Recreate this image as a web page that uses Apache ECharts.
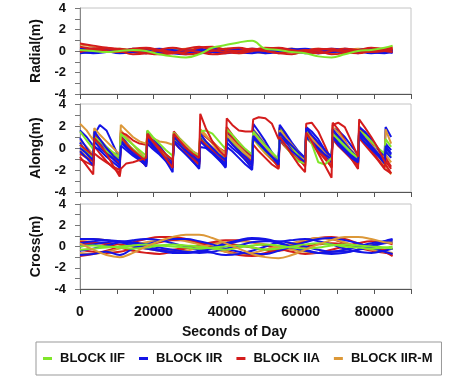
<!DOCTYPE html>
<html><head><meta charset="utf-8">
<script src="https://cdn.jsdelivr.net/npm/echarts@6/dist/echarts.min.js"></script>
<style>html,body{margin:0;padding:0;background:#fff}#c{width:474px;height:387px}</style>
</head><body><div id="c"></div>
<script>
// Time samples (seconds of day)
const tRC = [0,3600,7200,10800,14400,18000,21600,25200,28800,32400,36000,39600,43200,46800,50400,54000,57600,61200,64800,68400,72000,75600,79200,82800,85000];
const tAlong = [0,1800,3600,
 3900,5400,7200,9000,10800, 11100,12600,14400,16200,18000, 18300,19800,21600,23400,25200,
 25500,27000,28800,30600,32400, 32700,34200,36000,37800,39600, 39900,41400,43200,45000,46800,
 47100,48600,50400,52200,54000, 54300,55800,57600,59400,61200, 61500,63000,64800,66600,68400,
 68700,70200,72000,73800,75600, 75900,77400,79200,81000,82800, 83100,84600];

const categories = ['BLOCK IIF','BLOCK IIR','BLOCK IIA','BLOCK IIR-M'];
const yTicks = [-4,-2,0,2,4];
const xTicks = [0,20000,40000,60000,80000];

// ---- Radial (m)
const rG1 = [0.1,0.0,-0.1,0.0,0.1,0.0,-0.3,-0.5,-0.6,-0.3,0.3,0.55,0.8,0.95,0.2,0.1,-0.1,-0.2,-0.5,-0.6,-0.3,0.0,0.1,0.3,0.5];
const rG2 = [-0.2,-0.1,0.1,0.2,0.0,-0.1,0.0,0.1,0.0,-0.1,0.1,0.2,0.1,0.0,-0.1,0.0,0.1,0.0,-0.1,0.0,0.1,0.0,-0.1,0.1,0.2];
const rB1 = [0.2,0.1,0.0,-0.1,0.2,0.1,-0.2,-0.1,0.0,0.1,-0.1,-0.2,0.0,0.2,0.1,-0.1,0.0,0.1,-0.2,-0.1,0.0,0.1,-0.1,-0.2,-0.1];
const rB2 = [-0.1,0.0,0.2,0.1,-0.1,-0.2,0.0,0.1,-0.2,-0.1,0.1,0.0,-0.1,0.1,0.2,0.0,-0.1,0.0,0.1,0.2,0.1,-0.1,0.0,0.1,0.0];
const rB3 = [0.0,-0.2,-0.1,0.1,0.0,0.2,0.1,-0.2,-0.3,0.0,0.2,0.1,-0.1,-0.2,0.0,0.1,0.2,-0.1,-0.2,0.0,-0.1,0.1,0.2,0.0,-0.2];
const rB4 = [0.1,0.2,0.0,-0.2,-0.1,0.1,0.2,0.0,-0.1,0.2,0.0,-0.1,0.1,0.0,-0.2,-0.1,0.1,0.2,0.0,-0.1,0.2,0.0,-0.2,-0.1,0.1];
const rB5 = [-0.2,-0.1,0.1,0.0,0.1,-0.1,-0.2,0.0,0.1,-0.2,-0.1,0.1,0.2,0.0,-0.1,0.1,0.0,-0.2,-0.1,0.1,0.0,-0.2,0.1,0.0,-0.1];
const rR1 = [0.7,0.5,0.3,0.2,0.1,0.2,0.0,-0.2,-0.1,0.3,0.4,0.1,0.0,0.1,0.3,0.2,0.0,-0.1,0.1,0.2,0.0,0.1,0.3,0.2,0.3];
const rR2 = [0.4,0.2,0.0,-0.1,0.2,0.3,0.1,-0.1,-0.3,-0.2,0.0,0.2,0.3,0.1,0.0,-0.2,-0.1,0.1,0.0,-0.3,-0.2,0.0,0.1,0.0,-0.1];
const rR3 = [0.0,0.1,0.2,0.0,-0.3,-0.2,0.1,0.3,0.1,-0.1,-0.3,-0.2,0.0,0.2,0.0,-0.2,-0.3,0.0,0.2,0.1,-0.1,-0.2,0.0,0.2,0.1];
const rR4 = [-0.1,0.2,0.3,0.1,0.0,-0.2,-0.3,-0.2,0.2,0.4,0.1,-0.1,-0.2,0.0,0.2,0.3,0.1,-0.1,-0.2,0.0,0.2,0.1,-0.1,0.0,0.2];
const rO1 = [0.6,0.4,0.1,0.0,0.2,0.1,-0.1,0.0,0.2,0.1,0.0,-0.1,0.1,0.2,0.0,0.1,0.2,0.0,-0.1,0.1,0.2,0.1,0.0,0.2,0.4];
const rO2 = [0.3,0.1,-0.1,0.1,0.0,-0.2,0.0,0.2,0.1,-0.1,0.1,0.0,-0.2,-0.1,0.1,0.0,-0.1,0.1,0.2,0.0,-0.1,0.0,0.1,0.0,0.1];
const rO3 = [0.0,0.2,0.1,-0.1,0.1,0.2,0.1,0.0,-0.1,0.0,0.2,0.1,0.0,-0.1,-0.2,0.1,0.2,0.1,0.0,-0.2,0.0,0.2,0.1,-0.1,0.0];

// ---- Along (m)
const aB1 = [0.5,-0.5,-1.5, 1.2,2.1,1.6,0.3,-1.0, 0.9,0.4,-0.2,-0.9,-1.7, 1.3,0.6,-0.3,-1.2,-2.2, 1.2,0.5,-0.4,-1.2,-1.9, 1.0,0.4,-0.3,-1.0,-1.8, 1.4,0.7,-0.2,-1.1,-1.9, 2.2,1.5,0.6,-0.4,-1.3, 1.8,1.2,0.4,-0.4,-1.0, 1.9,1.5,0.8,-0.2,-1.1, 1.8,1.6,1.0,0.2,-0.6, 1.7,1.4,0.8,0.0,-0.8, 1.9,1.0];
const aB2 = [0.9,0.0,-0.9, 1.0,0.4,-0.3,-0.9,-1.4, 1.1,0.5,-0.2,-0.8,-1.3, 1.5,0.9,0.2,-0.6,-1.3, 0.8,0.3,-0.3,-0.8,-1.3, 0.1,0.0,-0.5,-1.1,-1.7, 1.2,0.6,0.1,-0.4,-0.9, 1.6,1.0,0.2,-0.5,-1.1, 1.1,0.6,0.0,-0.6,-1.2, 1.5,0.9,0.2,-0.5,-1.3, 1.4,0.9,0.2,-0.6,-1.4, 1.9,1.5,0.8,-0.1,-1.0, 0.4,-0.2];
const aB3 = [-0.3,-0.9,-1.6, 0.6,0.0,-0.5,-1.0,-1.6, 0.7,0.1,-0.5,-1.1,-1.6, 1.0,0.3,-0.4,-1.1,-1.7, 1.2,0.4,-0.2,-0.9,-1.5, 0.9,0.2,-0.4,-1.0,-1.6, 0.1,-0.3,-0.9,-1.5,-2.0, 1.3,0.7,0.0,-0.6,-1.0, 2.1,1.4,0.5,-0.3,-0.9, 1.0,0.5,-0.1,-0.7,-1.2, 1.1,0.5,-0.1,-0.7,-1.1, 1.3,0.8,0.1,-0.6,-1.2, 0.0,-0.6];
const aB4 = [1.6,1.0,0.2, 0.3,-0.2,-0.8,-1.3,-1.8, 0.5,0.0,-0.5,-1.0,-1.4, 0.8,0.1,-0.5,-1.0,-1.5, 0.6,0.0,-0.6,-1.2,-1.8, 1.3,0.6,0.0,-0.6,-1.1, 0.9,0.3,-0.3,-0.8,-1.4, 0.9,0.4,-0.2,-0.8,-1.5, 1.4,0.8,0.2,-0.4,-0.9, 1.2,0.6,0.0,-0.6,-1.0, 1.7,1.1,0.4,-0.3,-0.9, 1.1,0.5,-0.1,-0.7,-1.4, -0.3,-0.9];
const aB5 = [0.0,-0.5,-1.1, 1.5,0.8,0.0,-0.7,-1.2, 0.2,-0.2,-0.7,-1.1,-1.5, 0.4,-0.1,-0.6,-1.2,-1.8, 1.0,0.5,0.0,-0.6,-1.2, 0.6,0.1,-0.4,-0.9,-1.4, 0.5,0.0,-0.5,-1.1,-1.6, 1.1,0.5,-0.2,-0.8,-1.3, 0.9,0.3,-0.3,-0.8,-1.3, 1.8,1.2,0.5,-0.2,-0.8, 1.0,0.3,-0.3,-0.9,-1.3, 1.5,0.9,0.2,-0.5,-1.1, 0.2,-0.5];
const aR1 = [-0.8,-1.6,-2.4, 0.9,0.3,-0.5,-1.6,-2.6, -1.9,-1.4,-1.3,-1.1,-0.9, 1.3,0.6,-0.2,-1.0,-1.8, 1.3,0.7,0.0,-0.5,-0.9, 3.1,1.8,0.6,-0.2,-0.8, 2.7,2.1,1.6,1.5,1.5, 2.6,2.8,2.7,2.2,0.8, 1.0,0.3,-0.6,-1.5,-2.2, 1.4,0.6,-0.5,-1.6,-2.7, 2.1,2.3,1.9,0.6,-0.8, 2.6,1.9,1.0,0.0,-1.2, -1.5,-2.3];
const aR2 = [-1.0,-1.3,-1.6, 0.2,-0.5,-1.2,-1.8,-2.3, 0.8,0.2,-0.5,-1.1,-1.6, 0.6,0.1,-0.4,-0.9,-1.3, 1.5,0.9,0.3,-0.3,-0.8, 1.2,0.6,0.0,-0.5,-1.0, 1.0,0.4,-0.3,-1.0,-1.6, 1.4,0.8,0.0,-0.9,-1.8, 1.9,1.2,0.3,-0.7,-1.6, 2.2,2.3,1.5,0.2,-1.2, 1.5,0.8,-0.1,-1.0,-1.9, 1.8,1.2,0.4,-0.5,-1.4, -0.9,-1.7];
const aR3 = [-0.5,-0.9,-1.2, 1.2,0.7,0.0,-0.7,-1.4, 1.4,1.2,0.7,0.4,0.3, 0.9,0.3,-0.3,-1.0,-1.6, 1.0,0.4,-0.2,-0.8,-1.3, 1.4,1.0,0.5,0.0,-0.4, 1.6,1.0,0.2,-0.5,-1.2, 1.0,0.4,-0.3,-1.0,-1.7, 1.5,0.9,0.1,-0.8,-1.7, 1.2,0.5,-0.3,-1.0,-1.7, 2.3,1.7,0.7,-0.4,-1.5, 1.3,0.6,-0.2,-1.0,-1.8, -1.2,-1.9];
const aR4 = [0.3,-0.2,-0.7, -0.5,-0.9,-1.3,-1.7,-2.0, 1.0,0.4,-0.2,-0.7,-1.2, 1.1,0.6,0.0,-0.6,-1.1, 0.5,0.0,-0.5,-1.0,-1.5, 0.8,0.3,-0.2,-0.7,-1.2, 1.9,1.2,0.5,-0.2,-0.8, 0.3,-0.3,-0.9,-1.5,-1.9, 0.7,0.1,-0.5,-1.1,-1.6, 1.7,1.1,0.2,-0.8,-1.8, 0.8,0.2,-0.4,-1.0,-1.6, 0.9,0.3,-0.4,-1.1,-1.9, -1.9,-2.3];
const aO1 = [2.2,1.6,0.7, 1.8,1.2,0.6,0.0,-0.6, 2.1,1.6,1.0,0.6,0.4, 1.2,0.9,0.6,0.5,0.3, 1.3,0.8,0.2,-0.3,-0.6, 1.5,1.1,0.6,0.0,-0.5, 1.2,0.7,0.1,-0.5,-1.0, 1.3,0.7,0.1,-0.6,-1.4, 1.6,1.0,0.3,-0.4,-1.1, 1.4,0.9,0.2,-0.5,-1.1, 1.9,1.4,0.6,-0.2,-0.9, 1.6,1.0,0.3,-0.4,-1.0, 1.7,0.4];
const aO2 = [0.7,0.1,-0.6, 0.9,0.3,-0.3,-0.9,-1.5, 0.6,0.1,-0.4,-0.9,-1.3, 1.5,0.8,0.0,-0.7,-1.5, 0.9,0.3,-0.3,-1.0,-1.7, 1.0,0.6,0.0,-0.6,-1.2, 1.4,0.8,0.0,-0.7,-1.4, 1.7,1.1,0.3,-0.5,-1.3, 1.2,0.6,-0.1,-0.9,-1.5, 1.6,1.0,0.3,-0.5,-1.3, 1.2,0.6,-0.1,-0.8,-1.5, 2.0,1.3,0.4,-0.6,-1.6, -0.6,-1.3];
const aO3 = [-0.2,-0.8,-1.3, 1.4,0.8,0.1,-0.5,-1.1, 1.6,1.0,0.3,-0.4,-1.0, 0.7,0.2,-0.4,-1.0,-1.5, 1.1,0.6,0.0,-0.6,-1.1, 1.7,1.2,0.4,-0.4,-1.3, 1.6,1.1,0.4,-0.4,-1.2, 0.8,0.2,-0.5,-1.1,-1.6, 1.3,0.7,0.0,-0.7,-1.4, 0.9,0.4,-0.2,-0.9,-1.5, 1.3,0.7,0.0,-0.7,-1.3, 1.2,0.7,0.0,-0.7,-1.4, -1.6,-2.4];
const aG1 = [1.5,0.7,-0.1, 1.0,0.6,0.1,-0.4,-0.8, 1.3,0.8,0.3,-0.2,-0.7, 1.6,1.0,0.4,-0.2,-0.7, 0.9,0.5,0.0,-0.4,-0.8, 1.5,1.6,1.3,0.6,-0.1, 1.7,1.2,0.5,-0.1,-0.6, 1.5,0.9,0.2,-0.4,-1.0, 1.0,0.2,-0.6,-1.2,-1.4, 1.6,0.4,-1.3,-1.5,-0.9, 1.3,0.8,0.2,-0.4,-0.9, 1.6,1.2,0.6,0.0,-0.5, 0.8,0.1];
const aG2 = [0.3,-0.3,-0.9, 0.6,0.2,-0.3,-0.7,-1.1, 0.9,0.4,-0.1,-0.6,-1.0, 1.1,0.5,-0.1,-0.6,-1.1, 1.4,0.9,0.3,-0.3,-0.8, 1.0,0.4,-0.2,-0.6,-1.0, 1.2,0.6,0.0,-0.5,-1.0, 0.9,0.3,-0.3,-0.9,-1.3, 1.8,1.0,0.1,-0.7,-1.2, 1.1,0.5,-0.1,-0.6,-1.0, 1.0,0.6,0.0,-0.5,-0.9, 1.3,0.8,0.1,-0.5,-0.9, -0.3,-0.8];

// ---- Cross (m)
const cO1 = [0.3,-0.3,-0.8,-1.0,-0.6,0.0,0.5,0.9,1.1,1.1,0.8,0.3,-0.2,-0.7,-1.0,-1.1,-0.8,-0.3,0.2,0.6,0.9,0.9,0.7,0.4,0.3];
const cO2 = [0.6,0.7,0.6,0.4,0.1,-0.2,-0.4,-0.5,-0.4,-0.1,0.2,0.4,0.5,0.4,0.2,0.0,-0.3,-0.5,-0.6,-0.5,-0.3,0.0,0.2,0.4,0.5];
const cO3 = [-0.6,-0.7,-0.5,-0.2,0.1,0.4,0.6,0.7,0.5,0.2,-0.2,-0.5,-0.7,-0.6,-0.3,0.0,0.3,0.6,0.8,0.7,0.4,0.0,-0.3,-0.5,-0.6];
const cB1 = [0.7,0.7,0.6,0.4,0.1,-0.2,-0.4,-0.6,-0.6,-0.4,-0.1,0.3,0.6,0.8,0.7,0.4,0.0,-0.3,-0.6,-0.7,-0.6,-0.3,0.1,0.5,0.7];
const cB2 = [-0.8,-0.7,-0.5,-0.8,-0.2,0.2,0.5,0.7,0.7,0.5,0.2,-0.2,-0.5,-0.7,-0.7,-0.4,0.0,0.4,0.7,0.8,0.6,0.3,-0.1,-0.5,-0.7];
const cB3 = [0.3,0.5,0.6,0.5,0.3,0.0,-0.3,-0.5,-0.6,-0.5,-0.2,0.2,0.5,0.7,0.6,0.3,-0.1,-0.4,-0.6,-0.5,-0.3,0.0,0.3,0.5,0.6];
const cB4 = [-0.4,-0.2,0.1,0.4,0.6,0.7,0.6,0.3,0.0,-0.3,-0.6,-0.8,-0.7,-0.4,0.0,0.4,0.6,0.7,0.5,0.2,-0.2,-0.5,-0.6,-0.4,-0.2];
const cB5 = [0.0,0.2,0.4,0.5,0.4,0.2,-0.1,-0.3,-0.5,-0.6,-0.5,-0.2,0.1,0.4,0.5,0.5,0.3,0.0,-0.3,-0.5,-0.5,-0.3,0.0,0.3,0.4];
const cR1 = [-0.9,-0.7,-0.4,0.0,0.4,0.7,0.9,0.9,0.7,0.3,-0.1,-0.5,-0.8,-0.9,-0.7,-0.3,0.1,0.5,0.8,0.9,0.7,0.3,-0.1,-0.5,-0.9];
const cR2 = [0.5,0.4,0.2,-0.1,-0.4,-0.6,-0.7,-0.5,-0.2,0.1,0.4,0.6,0.6,0.4,0.1,-0.2,-0.5,-0.7,-0.6,-0.3,0.0,0.3,0.5,0.4,0.2];
const cR3 = [-0.3,-0.5,-0.6,-0.5,-0.2,0.1,0.4,0.6,0.6,0.4,0.0,-0.4,-0.7,-0.8,-0.6,-0.2,0.2,0.6,0.8,0.7,0.3,-0.1,-0.4,-0.6,-0.7];
const cR4 = [0.2,0.3,0.3,0.2,0.0,-0.2,-0.3,-0.3,-0.1,0.1,0.3,0.3,0.1,-0.1,-0.3,-0.4,-0.2,0.0,0.2,0.3,0.2,0.0,-0.2,-0.3,-0.2];
const cG1 = [-0.3,-0.2,-0.1,0.0,0.1,0.2,0.1,0.0,-0.1,-0.2,-0.1,0.0,0.1,-0.1,-0.3,-0.2,0.0,0.2,0.3,0.2,0.0,-0.1,-0.2,-0.1,0.0];
const cG2 = [0.0,0.1,0.0,-0.1,-0.2,-0.1,0.1,0.2,0.1,0.0,-0.2,-0.3,-0.1,0.1,0.2,0.1,-0.1,-0.2,-0.1,0.1,0.2,0.1,0.0,-0.1,-0.2];

const colors = {'BLOCK IIF':'#80e62a','BLOCK IIR':'#1414e6','BLOCK IIA':'#d41c1c','BLOCK IIR-M':'#dc9838'};
const [F,R,A,M] = categories;

const panels = [
  {name:'Radial(m)', t:tRC, smooth:0.4, lines:[[M,rO1],[M,rO2],[M,rO3],[F,rG2],[R,rB1],[R,rB2],[R,rB3],[R,rB4],[R,rB5],[A,rR1],[A,rR2],[A,rR3],[A,rR4],[F,rG1]]},
  {name:'Along(m)', t:tAlong, smooth:false, lines:[[M,aO2],[R,aB1],[A,aR2],[M,aO3],[R,aB2],[A,aR3],[F,aG2],[R,aB3],[A,aR4],[M,aO1],[R,aB4],[F,aG1],[R,aB5],[A,aR1]]},
  {name:'Cross(m)', t:tRC, smooth:0.4, lines:[[A,cR1],[A,cR2],[A,cR3],[A,cR4],[M,cO2],[M,cO3],[R,cB1],[R,cB2],[R,cB3],[R,cB4],[R,cB5],[F,cG1],[F,cG2],[M,cO1]]}
];

const grids = [{top:8,height:86},{top:104,height:88},{top:204,height:85}];
const font = 'Arial, "Liberation Sans", sans-serif';

const chart = echarts.init(document.getElementById('c'), null, {renderer:'canvas'});
chart.setOption({
  animation:false,
  backgroundColor:'#fff',
  grid: grids.map(g=>({left:80, width:331, top:g.top, height:g.height, show:true, borderColor:'#c4c4c4', borderWidth:1, backgroundColor:'transparent'})),
  xAxis: grids.map((g,i)=>({
    type:'value', gridIndex:i, min:0, max:90000, interval:10000,
    axisLine:{show:true, onZero:false, lineStyle:{color:'#555', width:1}},
    axisTick:{show:true, inside:false, length:5, lineStyle:{color:'#555'}},
    splitLine:{show:false},
    axisLabel:{show:i===2, margin:16, fontFamily:font, fontWeight:'bold', fontSize:14, color:'#111',
      formatter:v=>xTicks.includes(v)?String(v):''}
  })),
  yAxis: panels.map((p,i)=>({
    type:'value', gridIndex:i, min:yTicks[0], max:yTicks[yTicks.length-1], interval:2,
    name:p.name, nameLocation:'middle', nameGap:31, nameRotate:90,
    nameTextStyle:{fontFamily:font, fontWeight:'bold', fontSize:14, color:'#111'},
    axisLine:{show:true, lineStyle:{color:'#888', width:1}},
    axisTick:{show:true, length:5, lineStyle:{color:'#777'}},
    minorTick:{show:true, splitNumber:2, length:5, lineStyle:{color:'#777'}},
    splitLine:{show:false},
    axisLabel:{margin:14, fontFamily:font, fontWeight:'bold', fontSize:13, color:'#111'}
  })),
  legend:{
    data:categories, left:36, top:342, orient:'horizontal',
    padding:[10,9,10,7], itemGap:14, itemWidth:9, itemHeight:3, icon:'rect',
    borderColor:'#999', borderWidth:1, backgroundColor:'#fff',
    textStyle:{fontFamily:font, fontWeight:'bold', fontSize:13, color:'#111', padding:[0,0,0,3]}
  },
  graphic:[{type:'text', left:182, top:325, style:{text:'Seconds of Day', fontFamily:font, fontWeight:'bold', fontSize:14, fill:'#111'}}],
  series: panels.flatMap((p,i)=>p.lines.map(([n,arr])=>({
    type:'line', name:n, xAxisIndex:i, yAxisIndex:i,
    data: arr.map((v,j)=>[p.t[j], v]),
    showSymbol:false, symbol:'none', smooth:p.smooth,
    lineStyle:{width:2, color:colors[n]}, itemStyle:{color:colors[n]},
    clip:true
  })))
});
</script></body></html>
